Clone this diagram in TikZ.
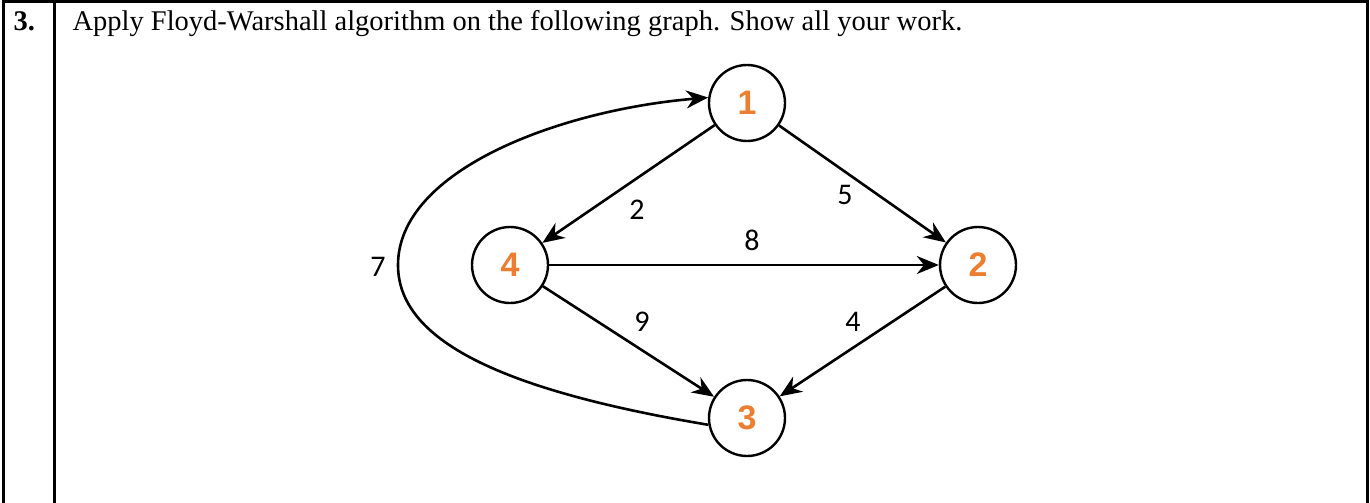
\documentclass[tikz,border=0pt]{standalone}
\usepackage{fontspec}
\setmainfont{Liberation Serif}
\newfontfamily\lsans{Liberation Sans}
\newfontfamily\carl{Carlito}
\usetikzlibrary{arrows.meta}
\definecolor{orng}{RGB}{237,125,49}
\begin{document}
\begin{tikzpicture}[x=1pt,y=-1pt,
  vtx/.style={circle,draw,line width=2.4pt,minimum size=76pt,inner sep=0pt,font=\lsans\bfseries\fontsize{34}{34}\selectfont,text=orng},
  edge/.style={line width=2.6pt,-{Stealth[length=22pt,width=18pt]}},
  wt/.style={font=\carl\fontsize{30}{30}\selectfont}]
\useasboundingbox (0,0) rectangle (1370,503);
\draw[line width=3pt] (3,503) -- (3,1.5) -- (1367,1.5) -- (1367,503);
\draw[line width=3pt] (54,1.5) -- (54,503);
\node[anchor=base west,font=\bfseries\fontsize{28.5}{28.5}\selectfont] (num) at (10,31) {3.};
\node[anchor=base west,font=\fontsize{28.5}{28.5}\selectfont] (title) at (69,31) {Apply Floyd-Warshall algorithm on the following graph. Show all your work.};
\node[vtx] (n1) at (747,103) {1};
\node[vtx] (n4) at (510,265) {4};
\node[vtx] (n2) at (978,265) {2};
\node[vtx] (n3) at (747,418) {3};
\draw[edge] (n1) -- (n4);
\draw[edge] (n1) -- (n2);
\draw[edge] (n4) -- (n2);
\draw[edge] (n4) -- (n3);
\draw[edge] (n2) -- (n3);
\draw[edge] (n3.190) .. controls (500,390) and (398,340) .. (398,265) .. controls (398,170) and (560,110) .. (n1.172);
\node[wt] (w2) at (637,210) {2};
\node[wt] (w5) at (845,195) {5};
\node[wt] (w8) at (752,240) {8};
\node[wt] (w9) at (642,322) {9};
\node[wt] (w4) at (853,322) {4};
\node[wt] (w7) at (378,267) {7};
\end{tikzpicture}
\end{document}
